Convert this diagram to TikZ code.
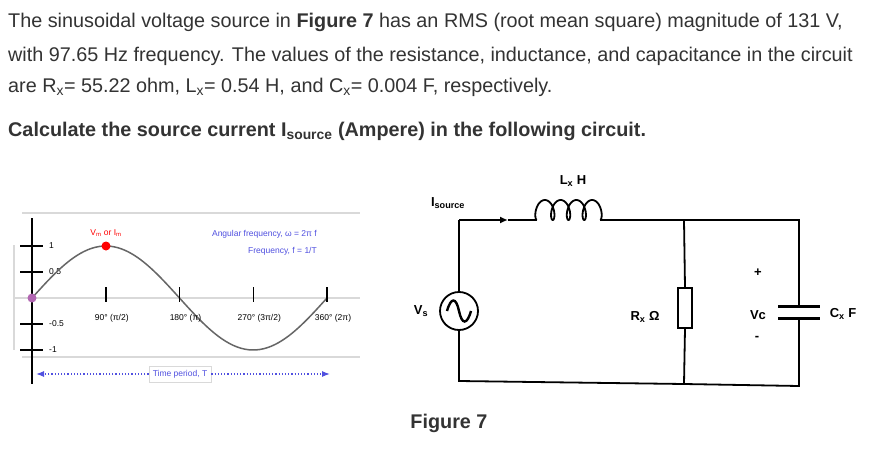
\documentclass[tikz,border=0pt]{standalone}
\usepackage{fontspec}
\setmainfont{Liberation Sans}
\usetikzlibrary{arrows.meta}
\definecolor{txt}{HTML}{333333}
\definecolor{lbl}{HTML}{5050E0}
\begin{document}
\begin{tikzpicture}[x=1pt,y=-1pt,
  para/.style={anchor=west,inner sep=0,text=txt,font=\fontsize{19.8}{22}\selectfont},
  small/.style={inner sep=0,font=\fontsize{8.5}{10}\selectfont},
  clbl/.style={inner sep=0,font=\bfseries\fontsize{13}{15}\selectfont},
  wire/.style={line width=1.8pt}]
\useasboundingbox (0,0) rectangle (887,450);
\fill[white] (0,0) rectangle (887,450);
% text
\node[para] (t1) at (8,22) {The sinusoidal voltage source in \textbf{Figure 7} has an RMS (root mean square) magnitude of 131 V,};
\node[para] (t2) at (8,56) {with 97.65 Hz frequency. The values of the resistance, inductance, and capacitance in the circuit};
\node[para] (t3) at (8,87) {are R\textsubscript{x}= 55.22 ohm, L\textsubscript{x}= 0.54 H, and C\textsubscript{x}= 0.004 F, respectively.};
\node[para,font=\bfseries\fontsize{19.8}{22}\selectfont] (t4) at (8,131) {Calculate the source current I\textsubscript{source} (Ampere) in the following circuit.};
% graph
\draw[gray!30,line width=1.2pt] (22,213) -- (360,213) (15,298) -- (360,298) (22,357) -- (360,357) (14,245) -- (14,350);
\draw[line width=1.8pt] (32,218) -- (32,384);
\foreach \y/\l in {246/1,272/0.5,324/-0.5,350/-1}{
  \draw[line width=1.5pt] (20,\y) -- (43,\y);
  \node[small,anchor=west] at (49,\y) {\l};}
\draw[line width=1.5pt,gray!80!black,domain=0:360,samples=80,smooth] plot ({32+\x/360*295},{298-52*sin(\x)});
\foreach \a/\l in {90/{90° (π/2)},180/{180° (π)},270/{270° (3π/2)},360/{360° (2π)}}{
  \draw[line width=1.5pt] ({32+\a/360*295},287) -- ({32+\a/360*295},302);
  \node[small] at ({32+\a/360*295+6},318) {\l};}
\fill[red] (106,246) circle (4.5);
\fill[violet!60] (32,298) circle (4.5);
\node[small,text=red] at (106,233) {V\textsubscript{m} or I\textsubscript{m}};
\node[small,text=lbl,anchor=east] at (317,234) {Angular frequency, ω = 2π f};
\node[small,text=lbl,anchor=east] at (317,251) {Frequency, f = 1/T};
\node[small,text=lbl,draw=gray!30,fill=white,inner sep=4pt] (tp) at (180,374) {Time period, T};
\draw[lbl,dotted,line width=1.2pt,-{Latex[length=8pt]}] (tp.west) -- (36,374);
\draw[lbl,dotted,line width=1.2pt,-{Latex[length=8pt]}] (tp.east) -- (330,374);
% circuit
\coordinate (tl) at (459,220); \coordinate (l1) at (537,220); \coordinate (l2) at (600,220);
\coordinate (tm) at (684,220); \coordinate (tr) at (799,220);
\coordinate (bl) at (459,381); \coordinate (bm) at (684,384); \coordinate (br) at (799,386);
\coordinate (am) at (508,220);
\node[circle,draw,line width=1.8pt,minimum size=38pt,inner sep=0] (src) at (459,311) {};
\draw[line width=2.4pt] (447,311) .. controls (451,297) and (456,297) .. (459,311) .. controls (462,325) and (467,325) .. (471,311);
\node[draw,line width=2.2pt,minimum width=14pt,minimum height=40pt,inner sep=0] (res) at (685,308) {};
\coordinate (c1) at (799,306); \coordinate (c2) at (799,318);
\draw[wire] (src.north) -- (tl);
\draw[wire,-{Latex[length=8pt,width=7pt]}] (tl) -- (am);
\draw[wire] (am) -- (l1);
\draw[wire,domain=0:1440,samples=200,smooth] plot ({537+\x/1440*63-5*sin(\x)},{220-10*(1-cos(\x))});
\draw[wire] (l2) -- (tm) -- (tr) -- (c1);
\draw[wire] (tm) -- (res.north) (res.south) -- (bm);
\draw[wire] (c2) -- (br) -- (bm) -- (bl) -- (src.south);
\draw[line width=3pt] (778,306) -- (820,306) (778,318) -- (820,318);
\node[clbl] at (448,203) {I\textsubscript{source}};
\node[clbl] at (573,181) {L\textsubscript{x} H};
\node[clbl] at (421,311) {V\textsubscript{s}};
\node[clbl] at (645,317) {R\textsubscript{x} Ω};
\node[clbl] at (758,273) {+};
\node[clbl] at (758,315) {Vc};
\node[clbl] at (757,338) {-};
\node[clbl] at (843,314) {C\textsubscript{x} F};
\node[para,anchor=center,font=\bfseries\fontsize{19.8}{22}\selectfont] (fig) at (449,423) {Figure 7};
\end{tikzpicture}
\end{document}
